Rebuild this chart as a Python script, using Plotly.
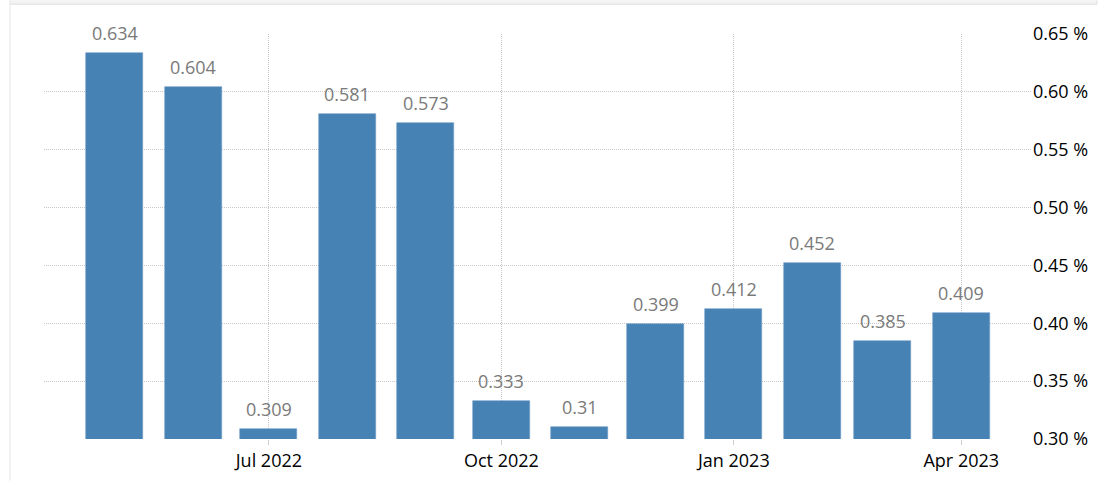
import plotly.graph_objects as go

# ---- data ----
months = ["2022-05-01", "2022-06-01", "2022-07-01", "2022-08-01", "2022-09-01", "2022-10-01",
          "2022-11-01", "2022-12-01", "2023-01-01", "2023-02-01", "2023-03-01", "2023-04-01"]
values = [0.634, 0.604, 0.309, 0.581, 0.573, 0.333, 0.31, 0.399, 0.412, 0.452, 0.385, 0.409]
labels = [str(v) for v in values]
tick_dates = ["2022-07-01", "2022-10-01", "2023-01-01", "2023-04-01"]
tick_labels = ["Jul 2022", "Oct 2022", "Jan 2023", "Apr 2023"]
y_ticks = [0.30, 0.35, 0.40, 0.45, 0.50, 0.55, 0.60, 0.65]
y_tick_labels = ["%.2f %%" % v for v in y_ticks]

W, H = 1103, 484
ML, MT = 44, 34
MR = W - 1032
MB = H - 442
PW, PH = W - ML - MR, H - MT - MB

def px_x(p):
    return (p - ML) / PW

def px_y(p):
    return (H - MB - p) / PH

FONT = "Open Sans"
BAR = "#4682B4"
GRID = "#c8c8c8"

fig = go.Figure()
fig.add_trace(go.Bar(
    x=months, y=values,
    width=[1.95e9] * len(months),
    marker=dict(color=BAR, line=dict(color="#6f9cc8", width=0.6)),
    hoverinfo="x+y",
))

for d, v, t in zip(months, values, labels):
    fig.add_annotation(x=d, y=v, text=t, showarrow=False, xref="x", yref="y",
                       yanchor="bottom", yshift=6,
                       font=dict(family=FONT, size=18, color="#7a7a7a"))

shapes = [
    dict(type="rect", xref="paper", yref="paper",
         x0=px_x(10), x1=px_x(1097), y0=px_y(4), y1=px_y(0),
         fillcolor="#f3f3f3", line=dict(width=0), layer="above"),
    dict(type="line", xref="paper", yref="paper",
         x0=px_x(10), x1=px_x(1097), y0=px_y(4), y1=px_y(4),
         line=dict(color="#dedede", width=1)),
    dict(type="line", xref="paper", yref="paper",
         x0=px_x(10), x1=px_x(10), y0=px_y(484), y1=px_y(0),
         line=dict(color="#e6e6e6", width=1)),
    dict(type="line", xref="paper", yref="paper",
         x0=px_x(1097), x1=px_x(1097), y0=px_y(4), y1=px_y(0),
         line=dict(color="#dedede", width=1)),
]

fig.update_layout(
    width=W, height=H,
    margin=dict(l=ML, r=MR, t=MT, b=MB, pad=0),
    paper_bgcolor="white", plot_bgcolor="white",
    showlegend=False,
    bargap=0,
    shapes=shapes,
    font=dict(family=FONT, size=18, color="#000000"),
    xaxis=dict(
        type="date",
        range=["2022-04-03", "2023-04-29"],
        tickvals=tick_dates, ticktext=tick_labels,
        showgrid=True, gridcolor=GRID, griddash="1px,1px", gridwidth=1,
        ticks="outside", ticklen=5, tickcolor="#cccccc", tickwidth=1,
        showline=False, zeroline=False,
        tickfont=dict(family=FONT, size=18, color="#000000"),
    ),
    yaxis=dict(
        side="right",
        range=[0.30, 0.65],
        tickvals=y_ticks, ticktext=y_tick_labels,
        showgrid=True, gridcolor=GRID, griddash="1px,1px", gridwidth=1,
        ticks="", showline=False, zeroline=False,
        tickfont=dict(family=FONT, size=18, color="#000000"),
    ),
)

fig.write_html(
    "out.html",
    config={"displayModeBar": False},
    post_script="document.body.style.margin='0';document.body.style.overflow='hidden';",
)
